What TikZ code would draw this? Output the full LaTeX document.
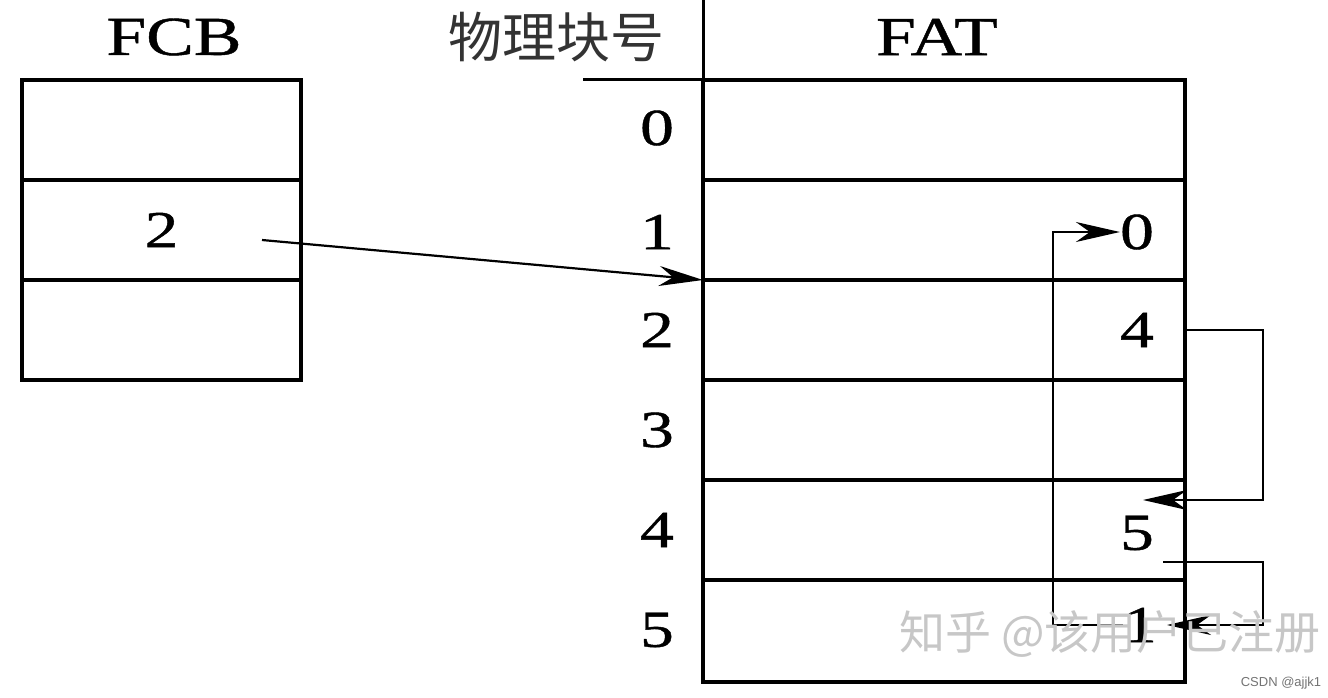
\documentclass[tikz,border=0pt]{standalone}
\usepackage{fontspec}
\setmainfont{Liberation Serif}
\newfontfamily\digfont[FakeStretch=1.3, FakeBold=0.8]{Liberation Serif}
\newfontfamily\cjk{Noto Sans CJK SC}
\newfontfamily\wmsans{Liberation Sans}
\usetikzlibrary{arrows.meta}

\tikzstyle{cell}=[draw, rectangle, line width=3.5pt, inner sep=0pt, outer sep=0pt]
\tikzstyle{num}=[inner sep=0pt, font=\digfont\fontsize{52}{60}\selectfont]
\tikzstyle{head}=[inner sep=0pt, font=\digfont\fontsize{55}{62}\selectfont]
\tikzstyle{arr}=[line width=2.2pt, -{Stealth[length=44pt, width=20pt, inset=14pt]}]

\begin{document}
\begin{tikzpicture}[x=1pt, y=-1pt]
            \useasboundingbox (0,0) rectangle (1328,698);

            % Nadpisy
            \node[head] (lfcb) at (174,37) {FCB};
            \node[inner sep=0pt, font=\cjk\fontsize{54}{60}\selectfont, text=black!80] (lblk) at (556,37) {物理块号};
            \node[head] (lfat) at (937,37) {FAT};

            % FCB
            \node[cell, minimum width=279pt, minimum height=100pt] (k0) at (161.5,130) {};
            \node[cell, minimum width=279pt, minimum height=100pt, num] (k1) at (161.5,230) {2};
            \node[cell, minimum width=279pt, minimum height=100pt] (k2) at (161.5,330) {};

            % FAT
            \node[cell, minimum width=482pt, minimum height=100pt] (f0) at (944,130) {};
            \node[cell, minimum width=482pt, minimum height=100pt] (f1) at (944,230) {};
            \node[cell, minimum width=482pt, minimum height=100pt] (f2) at (944,330) {};
            \node[cell, minimum width=482pt, minimum height=100pt] (f3) at (944,430) {};
            \node[cell, minimum width=482pt, minimum height=100pt] (f4) at (944,530) {};
            \node[cell, minimum width=482pt, minimum height=102pt] (f5) at (944,631) {};

            % Cisla bloku
            \node[num] (n0) at (657,128) {0};
            \node[num] (n1) at (657,232) {1};
            \node[num] (n2) at (657,330) {2};
            \node[num] (n3) at (657,430) {3};
            \node[num] (n4) at (657,530) {4};
            \node[num] (n5) at (657,630) {5};

            % Polozky FAT
            \node[num] (e0) at (1137,232) {0};
            \node[num] (e4) at (1137,330) {4};
            \node[num] (e5) at (1137,533) {5};
            \node[num] (e1) at (1140,625) {1};

            % Cary zahlavi
            \coordinate (top) at (703,0);
            \coordinate (hl) at (583,80);
            \draw[line width=3pt] (top) -- (f0.north west);
            \draw[line width=3pt] (hl) -- (f0.north west);

            % Sipky
            \coordinate (p2) at (262,240);
            \coordinate (t5) at (1143,500);
            \coordinate (s5) at (1163,562);
            \coordinate (t1) at (1167,625);
            \draw[arr] (p2) -- (f1.south west);
            \draw[arr] (f2.east) -- ++(78,0) |- (t5);
            \draw[arr] (s5) -- ++(100,0) |- (t1);
            \draw[arr] (e1.west) -- ++(-70,0) |- (e0.west);

            % Vodoznak
            \node[inner sep=0pt, text=black!22, font=\cjk\fontsize{46}{52}\selectfont] (wm) at (1110,634) {知乎 @该用户已注册};
            \node[inner sep=0pt, text=black!55, font=\wmsans\fontsize{13}{15}\selectfont] (csdn) at (1281,683) {CSDN @ajjk1};
        \end{tikzpicture}
\end{document}
